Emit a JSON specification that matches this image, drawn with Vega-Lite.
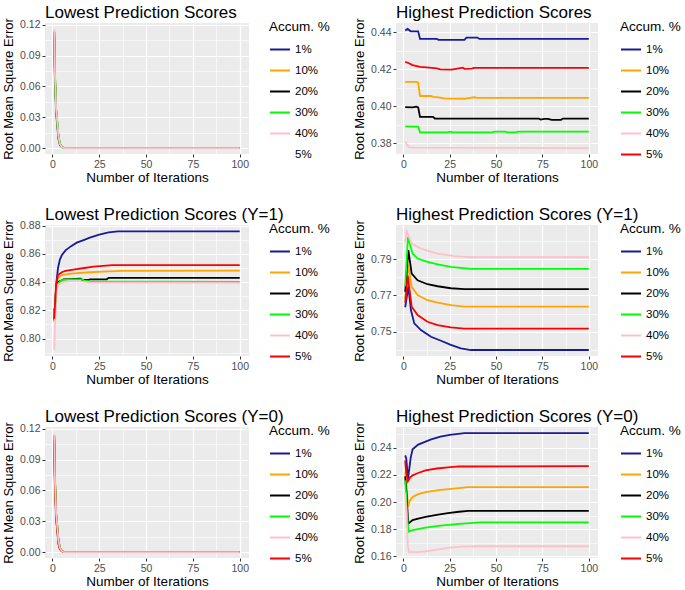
{
  "$schema": "https://vega.github.io/schema/vega-lite/v6.json",
  "padding": {"left": 2, "top": 3, "right": 0, "bottom": 0},
  "config": {
    "font": "Liberation Sans",
    "view": {"fill": "#EBEBEB", "stroke": null},
    "axis": {"domain": false, "gridColor": "#FFFFFF", "tickColor": "#333333", "tickSize": 3, "labelColor": "#4D4D4D", "labelFontSize": 10.5, "labelPadding": 2, "titleFontSize": 13.5, "titleFontWeight": "normal", "titleColor": "#000000"},
    "axisX": {"titlePadding": 1},
    "axisY": {"titlePadding": 4, "titleFontSize": 13},
    "title": {"fontSize": 17, "fontWeight": "normal", "anchor": "start", "frame": "group", "color": "#000000", "offset": -4},
    "legend": {"titleFontSize": 13.5, "titleFontWeight": "normal", "titleColor": "#000000", "labelFontSize": 11.5, "labelColor": "#000000", "symbolType": "stroke", "symbolSize": 400, "symbolStrokeWidth": 2, "rowPadding": 4, "titlePadding": 5}
  },
  "datasets": {
    "p1": [
      {"iter": 1, "rmse": 0.108, "accum": "1%"}, {"iter": 1.3, "rmse": 0.071, "accum": "1%"}, {"iter": 2, "rmse": 0.034, "accum": "1%"}, {"iter": 2.6, "rmse": 0.022, "accum": "1%"}, {"iter": 3.2, "rmse": 0.009, "accum": "1%"}, {"iter": 4, "rmse": 0.003, "accum": "1%"}, {"iter": 5, "rmse": 0.0012, "accum": "1%"}, {"iter": 6, "rmse": 0, "accum": "1%"}, {"iter": 100, "rmse": 0, "accum": "1%"},
      {"iter": 1, "rmse": 0.112, "accum": "10%"}, {"iter": 1.3, "rmse": 0.074, "accum": "10%"}, {"iter": 2, "rmse": 0.036, "accum": "10%"}, {"iter": 2.6, "rmse": 0.024, "accum": "10%"}, {"iter": 3.2, "rmse": 0.011, "accum": "10%"}, {"iter": 4, "rmse": 0.004, "accum": "10%"}, {"iter": 5, "rmse": 0.0015, "accum": "10%"}, {"iter": 6, "rmse": 0, "accum": "10%"}, {"iter": 100, "rmse": 0, "accum": "10%"},
      {"iter": 1, "rmse": 0.113, "accum": "20%"}, {"iter": 1.3, "rmse": 0.075, "accum": "20%"}, {"iter": 2, "rmse": 0.037, "accum": "20%"}, {"iter": 2.6, "rmse": 0.025, "accum": "20%"}, {"iter": 3.2, "rmse": 0.012, "accum": "20%"}, {"iter": 4, "rmse": 0.004, "accum": "20%"}, {"iter": 5, "rmse": 0.001, "accum": "20%"}, {"iter": 6, "rmse": 0, "accum": "20%"}, {"iter": 100, "rmse": 0, "accum": "20%"},
      {"iter": 1, "rmse": 0.114, "accum": "30%"}, {"iter": 1.3, "rmse": 0.076, "accum": "30%"}, {"iter": 2, "rmse": 0.038, "accum": "30%"}, {"iter": 2.6, "rmse": 0.026, "accum": "30%"}, {"iter": 3.2, "rmse": 0.012, "accum": "30%"}, {"iter": 4, "rmse": 0.004, "accum": "30%"}, {"iter": 5, "rmse": 0.001, "accum": "30%"}, {"iter": 6, "rmse": 0, "accum": "30%"}, {"iter": 100, "rmse": 0, "accum": "30%"},
      {"iter": 1, "rmse": 0.111, "accum": "5%"}, {"iter": 1.3, "rmse": 0.073, "accum": "5%"}, {"iter": 2, "rmse": 0.035, "accum": "5%"}, {"iter": 2.6, "rmse": 0.023, "accum": "5%"}, {"iter": 3.2, "rmse": 0.01, "accum": "5%"}, {"iter": 4, "rmse": 0.003, "accum": "5%"}, {"iter": 5, "rmse": 0.001, "accum": "5%"}, {"iter": 6, "rmse": 0, "accum": "5%"}, {"iter": 100, "rmse": 0, "accum": "5%"},
      {"iter": 1, "rmse": 0.116, "accum": "40%"}, {"iter": 1.3, "rmse": 0.076, "accum": "40%"}, {"iter": 2, "rmse": 0.038, "accum": "40%"}, {"iter": 2.6, "rmse": 0.026, "accum": "40%"}, {"iter": 3.2, "rmse": 0.012, "accum": "40%"}, {"iter": 4, "rmse": 0.004, "accum": "40%"}, {"iter": 5, "rmse": 0.001, "accum": "40%"}, {"iter": 6, "rmse": 0, "accum": "40%"}, {"iter": 100, "rmse": 0, "accum": "40%"}
    ],
    "p2": [
      {"iter": 1, "rmse": 0.4409, "accum": "1%"}, {"iter": 2.3, "rmse": 0.4418, "accum": "1%"}, {"iter": 4, "rmse": 0.4405, "accum": "1%"}, {"iter": 8, "rmse": 0.4405, "accum": "1%"}, {"iter": 9, "rmse": 0.4364, "accum": "1%"}, {"iter": 18, "rmse": 0.4364, "accum": "1%"}, {"iter": 19, "rmse": 0.4359, "accum": "1%"}, {"iter": 33, "rmse": 0.4359, "accum": "1%"}, {"iter": 34, "rmse": 0.4371, "accum": "1%"}, {"iter": 40, "rmse": 0.4371, "accum": "1%"}, {"iter": 41, "rmse": 0.4364, "accum": "1%"}, {"iter": 100, "rmse": 0.4364, "accum": "1%"},
      {"iter": 1, "rmse": 0.4131, "accum": "10%"}, {"iter": 7, "rmse": 0.4131, "accum": "10%"}, {"iter": 8, "rmse": 0.4127, "accum": "10%"}, {"iter": 9, "rmse": 0.4055, "accum": "10%"}, {"iter": 15, "rmse": 0.4055, "accum": "10%"}, {"iter": 16, "rmse": 0.405, "accum": "10%"}, {"iter": 19, "rmse": 0.4048, "accum": "10%"}, {"iter": 22, "rmse": 0.4042, "accum": "10%"}, {"iter": 33, "rmse": 0.404, "accum": "10%"}, {"iter": 36, "rmse": 0.4045, "accum": "10%"}, {"iter": 38, "rmse": 0.4048, "accum": "10%"}, {"iter": 40, "rmse": 0.4045, "accum": "10%"}, {"iter": 100, "rmse": 0.4045, "accum": "10%"},
      {"iter": 1, "rmse": 0.3995, "accum": "20%"}, {"iter": 5, "rmse": 0.3993, "accum": "20%"}, {"iter": 7, "rmse": 0.3997, "accum": "20%"}, {"iter": 8, "rmse": 0.3993, "accum": "20%"}, {"iter": 9, "rmse": 0.3942, "accum": "20%"}, {"iter": 16, "rmse": 0.3942, "accum": "20%"}, {"iter": 17, "rmse": 0.3933, "accum": "20%"}, {"iter": 73, "rmse": 0.3933, "accum": "20%"}, {"iter": 74, "rmse": 0.3927, "accum": "20%"}, {"iter": 76, "rmse": 0.3931, "accum": "20%"}, {"iter": 78, "rmse": 0.3931, "accum": "20%"}, {"iter": 80, "rmse": 0.3926, "accum": "20%"}, {"iter": 85, "rmse": 0.3926, "accum": "20%"}, {"iter": 86, "rmse": 0.3933, "accum": "20%"}, {"iter": 100, "rmse": 0.3933, "accum": "20%"},
      {"iter": 1, "rmse": 0.3891, "accum": "30%"}, {"iter": 8, "rmse": 0.3889, "accum": "30%"}, {"iter": 9, "rmse": 0.3858, "accum": "30%"}, {"iter": 24, "rmse": 0.3858, "accum": "30%"}, {"iter": 25, "rmse": 0.3862, "accum": "30%"}, {"iter": 27, "rmse": 0.3858, "accum": "30%"}, {"iter": 48, "rmse": 0.3858, "accum": "30%"}, {"iter": 49, "rmse": 0.3862, "accum": "30%"}, {"iter": 55, "rmse": 0.3862, "accum": "30%"}, {"iter": 56, "rmse": 0.3858, "accum": "30%"}, {"iter": 61, "rmse": 0.3858, "accum": "30%"}, {"iter": 62, "rmse": 0.3862, "accum": "30%"}, {"iter": 100, "rmse": 0.3862, "accum": "30%"},
      {"iter": 1, "rmse": 0.3809, "accum": "40%"}, {"iter": 2, "rmse": 0.379, "accum": "40%"}, {"iter": 3, "rmse": 0.3778, "accum": "40%"}, {"iter": 5, "rmse": 0.3775, "accum": "40%"}, {"iter": 100, "rmse": 0.3773, "accum": "40%"},
      {"iter": 1, "rmse": 0.424, "accum": "5%"}, {"iter": 3, "rmse": 0.4232, "accum": "5%"}, {"iter": 5, "rmse": 0.4222, "accum": "5%"}, {"iter": 9, "rmse": 0.4212, "accum": "5%"}, {"iter": 14, "rmse": 0.4208, "accum": "5%"}, {"iter": 18, "rmse": 0.4204, "accum": "5%"}, {"iter": 20, "rmse": 0.4199, "accum": "5%"}, {"iter": 26, "rmse": 0.4198, "accum": "5%"}, {"iter": 30, "rmse": 0.4205, "accum": "5%"}, {"iter": 32, "rmse": 0.4208, "accum": "5%"}, {"iter": 33, "rmse": 0.4202, "accum": "5%"}, {"iter": 37, "rmse": 0.4203, "accum": "5%"}, {"iter": 38, "rmse": 0.4207, "accum": "5%"}, {"iter": 100, "rmse": 0.4207, "accum": "5%"}
    ],
    "p3": [
      {"iter": 1, "rmse": 0.8215, "accum": "1%"}, {"iter": 1.3, "rmse": 0.813, "accum": "1%"}, {"iter": 2, "rmse": 0.838, "accum": "1%"}, {"iter": 3, "rmse": 0.85, "accum": "1%"}, {"iter": 4, "rmse": 0.856, "accum": "1%"}, {"iter": 5, "rmse": 0.859, "accum": "1%"}, {"iter": 7, "rmse": 0.8625, "accum": "1%"}, {"iter": 10, "rmse": 0.8655, "accum": "1%"}, {"iter": 13, "rmse": 0.868, "accum": "1%"}, {"iter": 17, "rmse": 0.87, "accum": "1%"}, {"iter": 20, "rmse": 0.8715, "accum": "1%"}, {"iter": 25, "rmse": 0.8737, "accum": "1%"}, {"iter": 30, "rmse": 0.8752, "accum": "1%"}, {"iter": 35, "rmse": 0.876, "accum": "1%"}, {"iter": 100, "rmse": 0.876, "accum": "1%"},
      {"iter": 1, "rmse": 0.815, "accum": "10%"}, {"iter": 2, "rmse": 0.837, "accum": "10%"}, {"iter": 3, "rmse": 0.843, "accum": "10%"}, {"iter": 5, "rmse": 0.845, "accum": "10%"}, {"iter": 10, "rmse": 0.846, "accum": "10%"}, {"iter": 20, "rmse": 0.847, "accum": "10%"}, {"iter": 27, "rmse": 0.8475, "accum": "10%"}, {"iter": 37, "rmse": 0.848, "accum": "10%"}, {"iter": 100, "rmse": 0.8482, "accum": "10%"},
      {"iter": 1, "rmse": 0.813, "accum": "20%"}, {"iter": 2, "rmse": 0.836, "accum": "20%"}, {"iter": 3, "rmse": 0.84, "accum": "20%"}, {"iter": 6, "rmse": 0.842, "accum": "20%"}, {"iter": 15, "rmse": 0.8425, "accum": "20%"}, {"iter": 16, "rmse": 0.8415, "accum": "20%"}, {"iter": 19, "rmse": 0.8415, "accum": "20%"}, {"iter": 20, "rmse": 0.842, "accum": "20%"}, {"iter": 29, "rmse": 0.842, "accum": "20%"}, {"iter": 30, "rmse": 0.843, "accum": "20%"}, {"iter": 100, "rmse": 0.843, "accum": "20%"},
      {"iter": 1, "rmse": 0.812, "accum": "30%"}, {"iter": 2, "rmse": 0.835, "accum": "30%"}, {"iter": 3, "rmse": 0.839, "accum": "30%"}, {"iter": 5, "rmse": 0.8415, "accum": "30%"}, {"iter": 8, "rmse": 0.842, "accum": "30%"}, {"iter": 16, "rmse": 0.842, "accum": "30%"}, {"iter": 17, "rmse": 0.841, "accum": "30%"}, {"iter": 20, "rmse": 0.8405, "accum": "30%"}, {"iter": 100, "rmse": 0.8402, "accum": "30%"},
      {"iter": 1, "rmse": 0.792, "accum": "40%"}, {"iter": 2, "rmse": 0.833, "accum": "40%"}, {"iter": 3, "rmse": 0.838, "accum": "40%"}, {"iter": 6, "rmse": 0.8402, "accum": "40%"}, {"iter": 10, "rmse": 0.8405, "accum": "40%"}, {"iter": 15, "rmse": 0.8405, "accum": "40%"}, {"iter": 20, "rmse": 0.8398, "accum": "40%"}, {"iter": 100, "rmse": 0.8394, "accum": "40%"},
      {"iter": 1, "rmse": 0.814, "accum": "5%"}, {"iter": 2, "rmse": 0.838, "accum": "5%"}, {"iter": 3, "rmse": 0.845, "accum": "5%"}, {"iter": 5, "rmse": 0.847, "accum": "5%"}, {"iter": 7, "rmse": 0.848, "accum": "5%"}, {"iter": 12, "rmse": 0.849, "accum": "5%"}, {"iter": 17, "rmse": 0.85, "accum": "5%"}, {"iter": 22, "rmse": 0.851, "accum": "5%"}, {"iter": 27, "rmse": 0.8515, "accum": "5%"}, {"iter": 32, "rmse": 0.852, "accum": "5%"}, {"iter": 100, "rmse": 0.852, "accum": "5%"}
    ],
    "p4": [
      {"iter": 1, "rmse": 0.7635, "accum": "1%"}, {"iter": 2, "rmse": 0.77, "accum": "1%"}, {"iter": 2.7, "rmse": 0.775, "accum": "1%"}, {"iter": 4.1, "rmse": 0.762, "accum": "1%"}, {"iter": 5.9, "rmse": 0.7546, "accum": "1%"}, {"iter": 9.5, "rmse": 0.7509, "accum": "1%"}, {"iter": 14.9, "rmse": 0.7472, "accum": "1%"}, {"iter": 20.3, "rmse": 0.745, "accum": "1%"}, {"iter": 25.6, "rmse": 0.7427, "accum": "1%"}, {"iter": 31, "rmse": 0.7408, "accum": "1%"}, {"iter": 36.4, "rmse": 0.7399, "accum": "1%"}, {"iter": 100, "rmse": 0.7399, "accum": "1%"},
      {"iter": 1, "rmse": 0.768, "accum": "10%"}, {"iter": 2.6, "rmse": 0.787, "accum": "10%"}, {"iter": 4.5, "rmse": 0.7748, "accum": "10%"}, {"iter": 7.7, "rmse": 0.7702, "accum": "10%"}, {"iter": 13, "rmse": 0.7674, "accum": "10%"}, {"iter": 18.5, "rmse": 0.766, "accum": "10%"}, {"iter": 25.6, "rmse": 0.7647, "accum": "10%"}, {"iter": 32.8, "rmse": 0.7638, "accum": "10%"}, {"iter": 100, "rmse": 0.7638, "accum": "10%"},
      {"iter": 1, "rmse": 0.772, "accum": "20%"}, {"iter": 2.7, "rmse": 0.795, "accum": "20%"}, {"iter": 4.5, "rmse": 0.7821, "accum": "20%"}, {"iter": 7.7, "rmse": 0.7784, "accum": "20%"}, {"iter": 13, "rmse": 0.7762, "accum": "20%"}, {"iter": 18.5, "rmse": 0.7751, "accum": "20%"}, {"iter": 25.6, "rmse": 0.774, "accum": "20%"}, {"iter": 32.8, "rmse": 0.7735, "accum": "20%"}, {"iter": 100, "rmse": 0.7735, "accum": "20%"},
      {"iter": 1, "rmse": 0.775, "accum": "30%"}, {"iter": 2.5, "rmse": 0.8022, "accum": "30%"}, {"iter": 5, "rmse": 0.7931, "accum": "30%"}, {"iter": 7.7, "rmse": 0.7904, "accum": "30%"}, {"iter": 13, "rmse": 0.7885, "accum": "30%"}, {"iter": 18.5, "rmse": 0.7872, "accum": "30%"}, {"iter": 25.6, "rmse": 0.7858, "accum": "30%"}, {"iter": 36.4, "rmse": 0.7847, "accum": "30%"}, {"iter": 100, "rmse": 0.7847, "accum": "30%"},
      {"iter": 1, "rmse": 0.7995, "accum": "40%"}, {"iter": 1.8, "rmse": 0.8053, "accum": "40%"}, {"iter": 4.5, "rmse": 0.7986, "accum": "40%"}, {"iter": 9.5, "rmse": 0.7959, "accum": "40%"}, {"iter": 18.5, "rmse": 0.7931, "accum": "40%"}, {"iter": 27.5, "rmse": 0.7917, "accum": "40%"}, {"iter": 36.4, "rmse": 0.7911, "accum": "40%"}, {"iter": 100, "rmse": 0.7911, "accum": "40%"},
      {"iter": 1, "rmse": 0.766, "accum": "5%"}, {"iter": 2.4, "rmse": 0.781, "accum": "5%"}, {"iter": 4.5, "rmse": 0.7638, "accum": "5%"}, {"iter": 7.7, "rmse": 0.7592, "accum": "5%"}, {"iter": 13, "rmse": 0.7555, "accum": "5%"}, {"iter": 18.5, "rmse": 0.7537, "accum": "5%"}, {"iter": 25.6, "rmse": 0.7524, "accum": "5%"}, {"iter": 32.8, "rmse": 0.7517, "accum": "5%"}, {"iter": 100, "rmse": 0.7517, "accum": "5%"}
    ],
    "p5": [
      {"iter": 1, "rmse": 0.106, "accum": "1%"}, {"iter": 1.3, "rmse": 0.069, "accum": "1%"}, {"iter": 2, "rmse": 0.032, "accum": "1%"}, {"iter": 2.6, "rmse": 0.021, "accum": "1%"}, {"iter": 3.2, "rmse": 0.008, "accum": "1%"}, {"iter": 4, "rmse": 0.003, "accum": "1%"}, {"iter": 5, "rmse": 0.001, "accum": "1%"}, {"iter": 6, "rmse": 0, "accum": "1%"}, {"iter": 100, "rmse": 0, "accum": "1%"},
      {"iter": 1, "rmse": 0.111, "accum": "10%"}, {"iter": 1.3, "rmse": 0.073, "accum": "10%"}, {"iter": 2, "rmse": 0.035, "accum": "10%"}, {"iter": 2.6, "rmse": 0.023, "accum": "10%"}, {"iter": 3.2, "rmse": 0.01, "accum": "10%"}, {"iter": 4, "rmse": 0.004, "accum": "10%"}, {"iter": 5, "rmse": 0.0015, "accum": "10%"}, {"iter": 6, "rmse": 0, "accum": "10%"}, {"iter": 100, "rmse": 0, "accum": "10%"},
      {"iter": 1, "rmse": 0.113, "accum": "20%"}, {"iter": 1.3, "rmse": 0.075, "accum": "20%"}, {"iter": 2, "rmse": 0.037, "accum": "20%"}, {"iter": 2.6, "rmse": 0.025, "accum": "20%"}, {"iter": 3.2, "rmse": 0.012, "accum": "20%"}, {"iter": 4, "rmse": 0.004, "accum": "20%"}, {"iter": 5, "rmse": 0.001, "accum": "20%"}, {"iter": 6, "rmse": 0, "accum": "20%"}, {"iter": 100, "rmse": 0, "accum": "20%"},
      {"iter": 1, "rmse": 0.114, "accum": "30%"}, {"iter": 1.3, "rmse": 0.076, "accum": "30%"}, {"iter": 2, "rmse": 0.038, "accum": "30%"}, {"iter": 2.6, "rmse": 0.026, "accum": "30%"}, {"iter": 3.2, "rmse": 0.013, "accum": "30%"}, {"iter": 4, "rmse": 0.004, "accum": "30%"}, {"iter": 5, "rmse": 0.001, "accum": "30%"}, {"iter": 6, "rmse": 0, "accum": "30%"}, {"iter": 100, "rmse": 0, "accum": "30%"},
      {"iter": 1, "rmse": 0.109, "accum": "5%"}, {"iter": 1.3, "rmse": 0.071, "accum": "5%"}, {"iter": 2, "rmse": 0.034, "accum": "5%"}, {"iter": 2.6, "rmse": 0.022, "accum": "5%"}, {"iter": 3.2, "rmse": 0.009, "accum": "5%"}, {"iter": 4, "rmse": 0.003, "accum": "5%"}, {"iter": 5, "rmse": 0.001, "accum": "5%"}, {"iter": 6, "rmse": 0, "accum": "5%"}, {"iter": 100, "rmse": 0, "accum": "5%"},
      {"iter": 1, "rmse": 0.115, "accum": "40%"}, {"iter": 1.3, "rmse": 0.075, "accum": "40%"}, {"iter": 2, "rmse": 0.037, "accum": "40%"}, {"iter": 2.6, "rmse": 0.025, "accum": "40%"}, {"iter": 3.2, "rmse": 0.011, "accum": "40%"}, {"iter": 4, "rmse": 0.004, "accum": "40%"}, {"iter": 5, "rmse": 0.001, "accum": "40%"}, {"iter": 6, "rmse": 0, "accum": "40%"}, {"iter": 100, "rmse": 0, "accum": "40%"}
    ],
    "p6": [
      {"iter": 1, "rmse": 0.2345, "accum": "1%"}, {"iter": 1.6, "rmse": 0.232, "accum": "1%"}, {"iter": 2.5, "rmse": 0.217, "accum": "1%"}, {"iter": 4, "rmse": 0.233, "accum": "1%"}, {"iter": 5, "rmse": 0.239, "accum": "1%"}, {"iter": 8, "rmse": 0.2425, "accum": "1%"}, {"iter": 15, "rmse": 0.2464, "accum": "1%"}, {"iter": 20, "rmse": 0.2483, "accum": "1%"}, {"iter": 25, "rmse": 0.2497, "accum": "1%"}, {"iter": 33, "rmse": 0.251, "accum": "1%"}, {"iter": 100, "rmse": 0.251, "accum": "1%"},
      {"iter": 1, "rmse": 0.222, "accum": "10%"}, {"iter": 1.6, "rmse": 0.215, "accum": "10%"}, {"iter": 2.5, "rmse": 0.1965, "accum": "10%"}, {"iter": 3.5, "rmse": 0.201, "accum": "10%"}, {"iter": 5, "rmse": 0.2037, "accum": "10%"}, {"iter": 8, "rmse": 0.2058, "accum": "10%"}, {"iter": 12, "rmse": 0.2074, "accum": "10%"}, {"iter": 20, "rmse": 0.209, "accum": "10%"}, {"iter": 30, "rmse": 0.2103, "accum": "10%"}, {"iter": 35, "rmse": 0.211, "accum": "10%"}, {"iter": 100, "rmse": 0.211, "accum": "10%"},
      {"iter": 1, "rmse": 0.219, "accum": "20%"}, {"iter": 1.8, "rmse": 0.205, "accum": "20%"}, {"iter": 2.6, "rmse": 0.184, "accum": "20%"}, {"iter": 5, "rmse": 0.1866, "accum": "20%"}, {"iter": 8, "rmse": 0.1878, "accum": "20%"}, {"iter": 12, "rmse": 0.189, "accum": "20%"}, {"iter": 18, "rmse": 0.1905, "accum": "20%"}, {"iter": 24, "rmse": 0.1918, "accum": "20%"}, {"iter": 30, "rmse": 0.1928, "accum": "20%"}, {"iter": 35, "rmse": 0.1934, "accum": "20%"}, {"iter": 100, "rmse": 0.1934, "accum": "20%"},
      {"iter": 1, "rmse": 0.216, "accum": "30%"}, {"iter": 1.5, "rmse": 0.206, "accum": "30%"}, {"iter": 2.2, "rmse": 0.187, "accum": "30%"}, {"iter": 2.8, "rmse": 0.178, "accum": "30%"}, {"iter": 5, "rmse": 0.1792, "accum": "30%"}, {"iter": 12, "rmse": 0.181, "accum": "30%"}, {"iter": 20, "rmse": 0.1825, "accum": "30%"}, {"iter": 30, "rmse": 0.1838, "accum": "30%"}, {"iter": 42, "rmse": 0.185, "accum": "30%"}, {"iter": 100, "rmse": 0.185, "accum": "30%"},
      {"iter": 1, "rmse": 0.207, "accum": "40%"}, {"iter": 1.7, "rmse": 0.19, "accum": "40%"}, {"iter": 2.4, "rmse": 0.168, "accum": "40%"}, {"iter": 3, "rmse": 0.1632, "accum": "40%"}, {"iter": 8, "rmse": 0.163, "accum": "40%"}, {"iter": 12, "rmse": 0.1635, "accum": "40%"}, {"iter": 18, "rmse": 0.1648, "accum": "40%"}, {"iter": 25, "rmse": 0.1662, "accum": "40%"}, {"iter": 32, "rmse": 0.167, "accum": "40%"}, {"iter": 40, "rmse": 0.1673, "accum": "40%"}, {"iter": 100, "rmse": 0.1673, "accum": "40%"},
      {"iter": 1, "rmse": 0.2307, "accum": "5%"}, {"iter": 1.5, "rmse": 0.222, "accum": "5%"}, {"iter": 2.5, "rmse": 0.2155, "accum": "5%"}, {"iter": 3.5, "rmse": 0.218, "accum": "5%"}, {"iter": 5, "rmse": 0.2197, "accum": "5%"}, {"iter": 8, "rmse": 0.2215, "accum": "5%"}, {"iter": 12, "rmse": 0.2234, "accum": "5%"}, {"iter": 18, "rmse": 0.2248, "accum": "5%"}, {"iter": 24, "rmse": 0.2257, "accum": "5%"}, {"iter": 30, "rmse": 0.2263, "accum": "5%"}, {"iter": 100, "rmse": 0.2265, "accum": "5%"}
    ]
  },
  "spacing": 21,
  "resolve": {"scale": {"color": "independent"}, "legend": {"color": "independent"}},
  "vconcat": [
    {
      "spacing": 23,
      "resolve": {"scale": {"color": "independent"}, "legend": {"color": "independent"}},
      "hconcat": [
        {
          "title": "Lowest Prediction Scores",
          "width": 204, "height": 131,
          "data": {"name": "p1"},
          "mark": {"type": "line", "strokeWidth": 1.8},
          "encoding": {
            "x": {"field": "iter", "type": "quantitative", "title": "Number of Iterations", "scale": {"domain": [-3.95, 104.95], "nice": false, "zero": false},
              "axis": {"values": [0, 12.5, 25, 37.5, 50, 62.5, 75, 87.5, 100], "labelExpr": "datum.value % 25 != 0 ? '' : datum.label",
                "gridWidth": {"condition": {"test": "datum.value % 25 != 0", "value": 0.6}, "value": 1.2},
                "tickOpacity": {"condition": {"test": "datum.value % 25 != 0", "value": 0}, "value": 1}}},
            "y": {"field": "rmse", "type": "quantitative", "title": "Root Mean Square Error", "scale": {"domain": [-0.0058, 0.1218], "nice": false, "zero": false},
              "axis": {"values": [0, 0.015, 0.03, 0.045, 0.06, 0.075, 0.09, 0.105, 0.12], "labelExpr": "abs(datum.value/0.03 - round(datum.value/0.03)) > 0.25 ? '' : format(datum.value, '.2f')",
                "gridWidth": {"condition": {"test": "abs(datum.value/0.03 - round(datum.value/0.03)) > 0.25", "value": 0.6}, "value": 1.2},
                "tickOpacity": {"condition": {"test": "abs(datum.value/0.03 - round(datum.value/0.03)) > 0.25", "value": 0}, "value": 1}}},
            "color": {"field": "accum", "type": "nominal", "title": "Accum. %", "legend": {"orient": "none", "legendX": 224, "legendY": -3}, "scale": {"domain": ["1%", "10%", "20%", "30%", "40%", "5%"], "range": ["#1a1a96", "#FFA500", "#000000", "#00FF00", "#FFC0CB", "transparent"]}}
          }
        },
        {
          "title": "Highest Prediction Scores",
          "width": 202, "height": 131,
          "data": {"name": "p2"},
          "mark": {"type": "line", "strokeWidth": 1.8},
          "encoding": {
            "x": {"field": "iter", "type": "quantitative", "title": "Number of Iterations", "scale": {"domain": [-3.95, 104.95], "nice": false, "zero": false},
              "axis": {"values": [0, 12.5, 25, 37.5, 50, 62.5, 75, 87.5, 100], "labelExpr": "datum.value % 25 != 0 ? '' : datum.label",
                "gridWidth": {"condition": {"test": "datum.value % 25 != 0", "value": 0.6}, "value": 1.2},
                "tickOpacity": {"condition": {"test": "datum.value % 25 != 0", "value": 0}, "value": 1}}},
            "y": {"field": "rmse", "type": "quantitative", "title": "Root Mean Square Error", "scale": {"domain": [0.3741, 0.445], "nice": false, "zero": false},
              "axis": {"values": [0.38, 0.39, 0.4, 0.41, 0.42, 0.43, 0.44], "labelExpr": "abs(datum.value/0.02 - round(datum.value/0.02)) > 0.25 ? '' : format(datum.value, '.2f')",
                "gridWidth": {"condition": {"test": "abs(datum.value/0.02 - round(datum.value/0.02)) > 0.25", "value": 0.6}, "value": 1.2},
                "tickOpacity": {"condition": {"test": "abs(datum.value/0.02 - round(datum.value/0.02)) > 0.25", "value": 0}, "value": 1}}},
            "color": {"field": "accum", "type": "nominal", "title": "Accum. %", "legend": {"orient": "none", "legendX": 224, "legendY": -3}, "scale": {"domain": ["1%", "10%", "20%", "30%", "40%", "5%"], "range": ["#1a1a96", "#FFA500", "#000000", "#00FF00", "#FFC0CB", "#FF0000"]}}
          }
        }
      ]
    },
    {
      "spacing": 23,
      "resolve": {"scale": {"color": "independent"}, "legend": {"color": "independent"}},
      "hconcat": [
        {
          "title": "Lowest Prediction Scores (Y=1)",
          "width": 204, "height": 131,
          "data": {"name": "p3"},
          "mark": {"type": "line", "strokeWidth": 1.8},
          "encoding": {
            "x": {"field": "iter", "type": "quantitative", "title": "Number of Iterations", "scale": {"domain": [-3.95, 104.95], "nice": false, "zero": false},
              "axis": {"values": [0, 12.5, 25, 37.5, 50, 62.5, 75, 87.5, 100], "labelExpr": "datum.value % 25 != 0 ? '' : datum.label",
                "gridWidth": {"condition": {"test": "datum.value % 25 != 0", "value": 0.6}, "value": 1.2},
                "tickOpacity": {"condition": {"test": "datum.value % 25 != 0", "value": 0}, "value": 1}}},
            "y": {"field": "rmse", "type": "quantitative", "title": "Root Mean Square Error", "scale": {"domain": [0.7876, 0.8805], "nice": false, "zero": false},
              "axis": {"values": [0.79, 0.8, 0.81, 0.82, 0.83, 0.84, 0.85, 0.86, 0.87, 0.88], "labelExpr": "abs(datum.value/0.02 - round(datum.value/0.02)) > 0.25 ? '' : format(datum.value, '.2f')",
                "gridWidth": {"condition": {"test": "abs(datum.value/0.02 - round(datum.value/0.02)) > 0.25", "value": 0.6}, "value": 1.2},
                "tickOpacity": {"condition": {"test": "abs(datum.value/0.02 - round(datum.value/0.02)) > 0.25", "value": 0}, "value": 1}}},
            "color": {"field": "accum", "type": "nominal", "title": "Accum. %", "legend": {"orient": "none", "legendX": 224, "legendY": -3}, "scale": {"domain": ["1%", "10%", "20%", "30%", "40%", "5%"], "range": ["#1a1a96", "#FFA500", "#000000", "#00FF00", "#FFC0CB", "#FF0000"]}}
          }
        },
        {
          "title": "Highest Prediction Scores (Y=1)",
          "width": 202, "height": 131,
          "data": {"name": "p4"},
          "mark": {"type": "line", "strokeWidth": 1.8},
          "encoding": {
            "x": {"field": "iter", "type": "quantitative", "title": "Number of Iterations", "scale": {"domain": [-3.95, 104.95], "nice": false, "zero": false},
              "axis": {"values": [0, 12.5, 25, 37.5, 50, 62.5, 75, 87.5, 100], "labelExpr": "datum.value % 25 != 0 ? '' : datum.label",
                "gridWidth": {"condition": {"test": "datum.value % 25 != 0", "value": 0.6}, "value": 1.2},
                "tickOpacity": {"condition": {"test": "datum.value % 25 != 0", "value": 0}, "value": 1}}},
            "y": {"field": "rmse", "type": "quantitative", "title": "Root Mean Square Error", "scale": {"domain": [0.7366, 0.8089], "nice": false, "zero": false},
              "axis": {"values": [0.74, 0.75, 0.76, 0.77, 0.78, 0.79, 0.8], "labelExpr": "abs(datum.value/0.02 - round(datum.value/0.02)) < 0.25 ? '' : format(datum.value, '.2f')",
                "gridWidth": {"condition": {"test": "abs(datum.value/0.02 - round(datum.value/0.02)) < 0.25", "value": 0.6}, "value": 1.2},
                "tickOpacity": {"condition": {"test": "abs(datum.value/0.02 - round(datum.value/0.02)) < 0.25", "value": 0}, "value": 1}}},
            "color": {"field": "accum", "type": "nominal", "title": "Accum. %", "legend": {"orient": "none", "legendX": 224, "legendY": -3}, "scale": {"domain": ["1%", "10%", "20%", "30%", "40%", "5%"], "range": ["#1a1a96", "#FFA500", "#000000", "#00FF00", "#FFC0CB", "#FF0000"]}}
          }
        }
      ]
    },
    {
      "spacing": 23,
      "resolve": {"scale": {"color": "independent"}, "legend": {"color": "independent"}},
      "hconcat": [
        {
          "title": "Lowest Prediction Scores (Y=0)",
          "width": 204, "height": 131,
          "data": {"name": "p5"},
          "mark": {"type": "line", "strokeWidth": 1.8},
          "encoding": {
            "x": {"field": "iter", "type": "quantitative", "title": "Number of Iterations", "scale": {"domain": [-3.95, 104.95], "nice": false, "zero": false},
              "axis": {"values": [0, 12.5, 25, 37.5, 50, 62.5, 75, 87.5, 100], "labelExpr": "datum.value % 25 != 0 ? '' : datum.label",
                "gridWidth": {"condition": {"test": "datum.value % 25 != 0", "value": 0.6}, "value": 1.2},
                "tickOpacity": {"condition": {"test": "datum.value % 25 != 0", "value": 0}, "value": 1}}},
            "y": {"field": "rmse", "type": "quantitative", "title": "Root Mean Square Error", "scale": {"domain": [-0.0058, 0.1218], "nice": false, "zero": false},
              "axis": {"values": [0, 0.015, 0.03, 0.045, 0.06, 0.075, 0.09, 0.105, 0.12], "labelExpr": "abs(datum.value/0.03 - round(datum.value/0.03)) > 0.25 ? '' : format(datum.value, '.2f')",
                "gridWidth": {"condition": {"test": "abs(datum.value/0.03 - round(datum.value/0.03)) > 0.25", "value": 0.6}, "value": 1.2},
                "tickOpacity": {"condition": {"test": "abs(datum.value/0.03 - round(datum.value/0.03)) > 0.25", "value": 0}, "value": 1}}},
            "color": {"field": "accum", "type": "nominal", "title": "Accum. %", "legend": {"orient": "none", "legendX": 224, "legendY": -3}, "scale": {"domain": ["1%", "10%", "20%", "30%", "40%", "5%"], "range": ["#1a1a96", "#FFA500", "#000000", "#00FF00", "#FFC0CB", "#FF0000"]}}
          }
        },
        {
          "title": "Highest Prediction Scores (Y=0)",
          "width": 202, "height": 131,
          "data": {"name": "p6"},
          "mark": {"type": "line", "strokeWidth": 1.8},
          "encoding": {
            "x": {"field": "iter", "type": "quantitative", "title": "Number of Iterations", "scale": {"domain": [-3.95, 104.95], "nice": false, "zero": false},
              "axis": {"values": [0, 12.5, 25, 37.5, 50, 62.5, 75, 87.5, 100], "labelExpr": "datum.value % 25 != 0 ? '' : datum.label",
                "gridWidth": {"condition": {"test": "datum.value % 25 != 0", "value": 0.6}, "value": 1.2},
                "tickOpacity": {"condition": {"test": "datum.value % 25 != 0", "value": 0}, "value": 1}}},
            "y": {"field": "rmse", "type": "quantitative", "title": "Root Mean Square Error", "scale": {"domain": [0.1586, 0.2555], "nice": false, "zero": false},
              "axis": {"values": [0.16, 0.17, 0.18, 0.19, 0.2, 0.21, 0.22, 0.23, 0.24, 0.25], "labelExpr": "abs(datum.value/0.02 - round(datum.value/0.02)) > 0.25 ? '' : format(datum.value, '.2f')",
                "gridWidth": {"condition": {"test": "abs(datum.value/0.02 - round(datum.value/0.02)) > 0.25", "value": 0.6}, "value": 1.2},
                "tickOpacity": {"condition": {"test": "abs(datum.value/0.02 - round(datum.value/0.02)) > 0.25", "value": 0}, "value": 1}}},
            "color": {"field": "accum", "type": "nominal", "title": "Accum. %", "legend": {"orient": "none", "legendX": 224, "legendY": -3}, "scale": {"domain": ["1%", "10%", "20%", "30%", "40%", "5%"], "range": ["#1a1a96", "#FFA500", "#000000", "#00FF00", "#FFC0CB", "#FF0000"]}}
          }
        }
      ]
    }
  ]
}
